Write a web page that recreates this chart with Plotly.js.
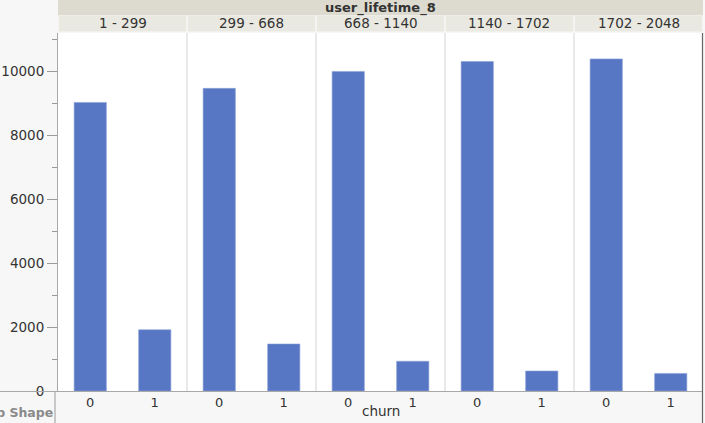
<!DOCTYPE html>
<html>
<head>
<meta charset="utf-8">
<script src="https://cdn.plot.ly/plotly-3.0.1.min.js"></script>
<style>
  html, body { margin: 0; padding: 0; background: #f7f7f7; }
  #chart-area { width: 705px; height: 423px; }
</style>
</head>
<body>
<div id="chart-area"></div>
<script>
// counts per lifetime bin, split by churn
const bins = ["1 - 299", "299 - 668", "668 - 1140", "1140 - 1702", "1702 - 2048"];
const churnCats = ["0", "1"];
const countsChurn0 = [9020, 9460, 9990, 10300, 10380];
const countsChurn1 = [1915, 1470, 930, 625, 550];

const W = 705, H = 423;
const M = { l: 58, r: 2, t: 33, b: 32 };
const plotH = H - M.t - M.b;
const plotW = W - M.l - M.r;

// pixel -> paper coords helpers
function py(p) { return (H - M.b - p) / plotH; }
function px(p) { return (p - M.l) / plotW; }

const barColor = "#5777c4";
const fontFam = "'DejaVu Sans', Verdana, sans-serif";

let data = [];
let layout = {
  width: W,
  height: H,
  margin: M,
  paper_bgcolor: "#f7f7f7",
  plot_bgcolor: "#ffffff",
  showlegend: false,
  bargap: 0.5,
  font: { family: fontFam, size: 12, color: "#333" },
  shapes: [],
  annotations: [],
};

const n = bins.length;
for (let i = 0; i < n; i++) {
  const xa = i == 0 ? "x" : "x" + (i + 1);
  const xkey = i == 0 ? "xaxis" : "xaxis" + (i + 1);
  data.push({
    type: "bar",
    x: churnCats,
    y: [countsChurn0[i], countsChurn1[i]],
    xaxis: xa,
    yaxis: "y",
    marker: { color: barColor, line: { color: "#8da2d6", width: 0.6 } },
    hoverinfo: "x+y",
  });
  layout[xkey] = {
    domain: [i / n, (i + 1) / n],
    anchor: "y",
    type: "category",
    showgrid: false,
    zeroline: false,
    showline: true,
    linecolor: "#a8a8a8",
    ticks: "",
    ticklabelstandoff: -1,
    tickfont: { size: 13, color: "#333" },
    fixedrange: true,
  };

  // panel divider
  if (i > 0) {
    layout.shapes.push({
      type: "line", xref: "paper", yref: "paper",
      x0: i / n, x1: i / n, y0: 0, y1: 1,
      line: { color: "#dadada", width: 1.2 },
    });
  }
  // panel header cell
  layout.shapes.push({
    type: "rect", xref: "paper", yref: "paper",
    x0: i / n + 0.0012, x1: (i + 1) / n - 0.0012,
    y0: py(31.5), y1: py(16),
    fillcolor: "#eae9e1", line: { width: 0 }, layer: "below",
  });
  layout.annotations.push({
    xref: "paper", yref: "paper",
    x: (i + 0.5) / n, y: py(23.5),
    text: bins[i], showarrow: false,
    font: { size: 13.5, color: "#333" },
    xanchor: "center", yanchor: "middle",
  });
}

layout.yaxis = {
  range: [0, 11190],
  tick0: 0,
  dtick: 2000,
  tickformat: "d",
  ticks: "outside",
  ticklen: 10,
  tickcolor: "#999",
  minor: { dtick: 1000, ticks: "outside", ticklen: 5, tickcolor: "#999" },
  showgrid: false,
  zeroline: false,
  showline: true,
  linecolor: "#a8a8a8",
  tickfont: { size: 13.5, color: "#333" },
  fixedrange: true,
};

// header band across the top
layout.shapes.push({
  type: "rect", xref: "paper", yref: "paper",
  x0: 0, x1: 1, y0: py(15.5), y1: py(0),
  fillcolor: "#dddbd0", line: { width: 0 }, layer: "below",
});
layout.shapes.push({
  type: "rect", xref: "paper", yref: "paper",
  x0: 0, x1: 1, y0: py(16), y1: py(15.5),
  fillcolor: "#f2f2ec", line: { width: 0 }, layer: "below",
});
// bottom-left frame lines
layout.shapes.push({
  type: "line", xref: "paper", yref: "paper",
  x0: px(0), x1: px(M.l), y0: py(391.5), y1: py(391.5),
  line: { color: "#a8a8a8", width: 1 },
});
layout.shapes.push({
  type: "line", xref: "paper", yref: "paper",
  x0: px(55), x1: px(55), y0: py(391.5), y1: py(H),
  line: { color: "#a8a8a8", width: 1.2 },
});
// right border
layout.shapes.push({
  type: "line", xref: "paper", yref: "paper",
  x0: px(702.5), x1: px(702.5), y0: py(H), y1: py(33),
  line: { color: "#666", width: 1.2 },
});

layout.annotations.push({
  xref: "paper", yref: "paper", x: 0.5, y: py(7.5),
  text: "<b>user_lifetime_8</b>", showarrow: false,
  font: { size: 13, color: "#333" }, xanchor: "center", yanchor: "middle",
});
layout.annotations.push({
  xref: "paper", yref: "paper", x: 0.5, y: py(411),
  text: "churn", showarrow: false,
  font: { size: 13.5, color: "#333" }, xanchor: "center", yanchor: "middle",
});
layout.annotations.push({
  xref: "paper", yref: "paper", x: px(55), y: py(412),
  text: "<b>Drop Shape</b>", showarrow: false,
  font: { size: 12.5, color: "#8a8a8a" }, xanchor: "right", yanchor: "middle",
});

Plotly.newPlot("chart-area", data, layout, { displayModeBar: false, staticPlot: true });
</script>
</body>
</html>
